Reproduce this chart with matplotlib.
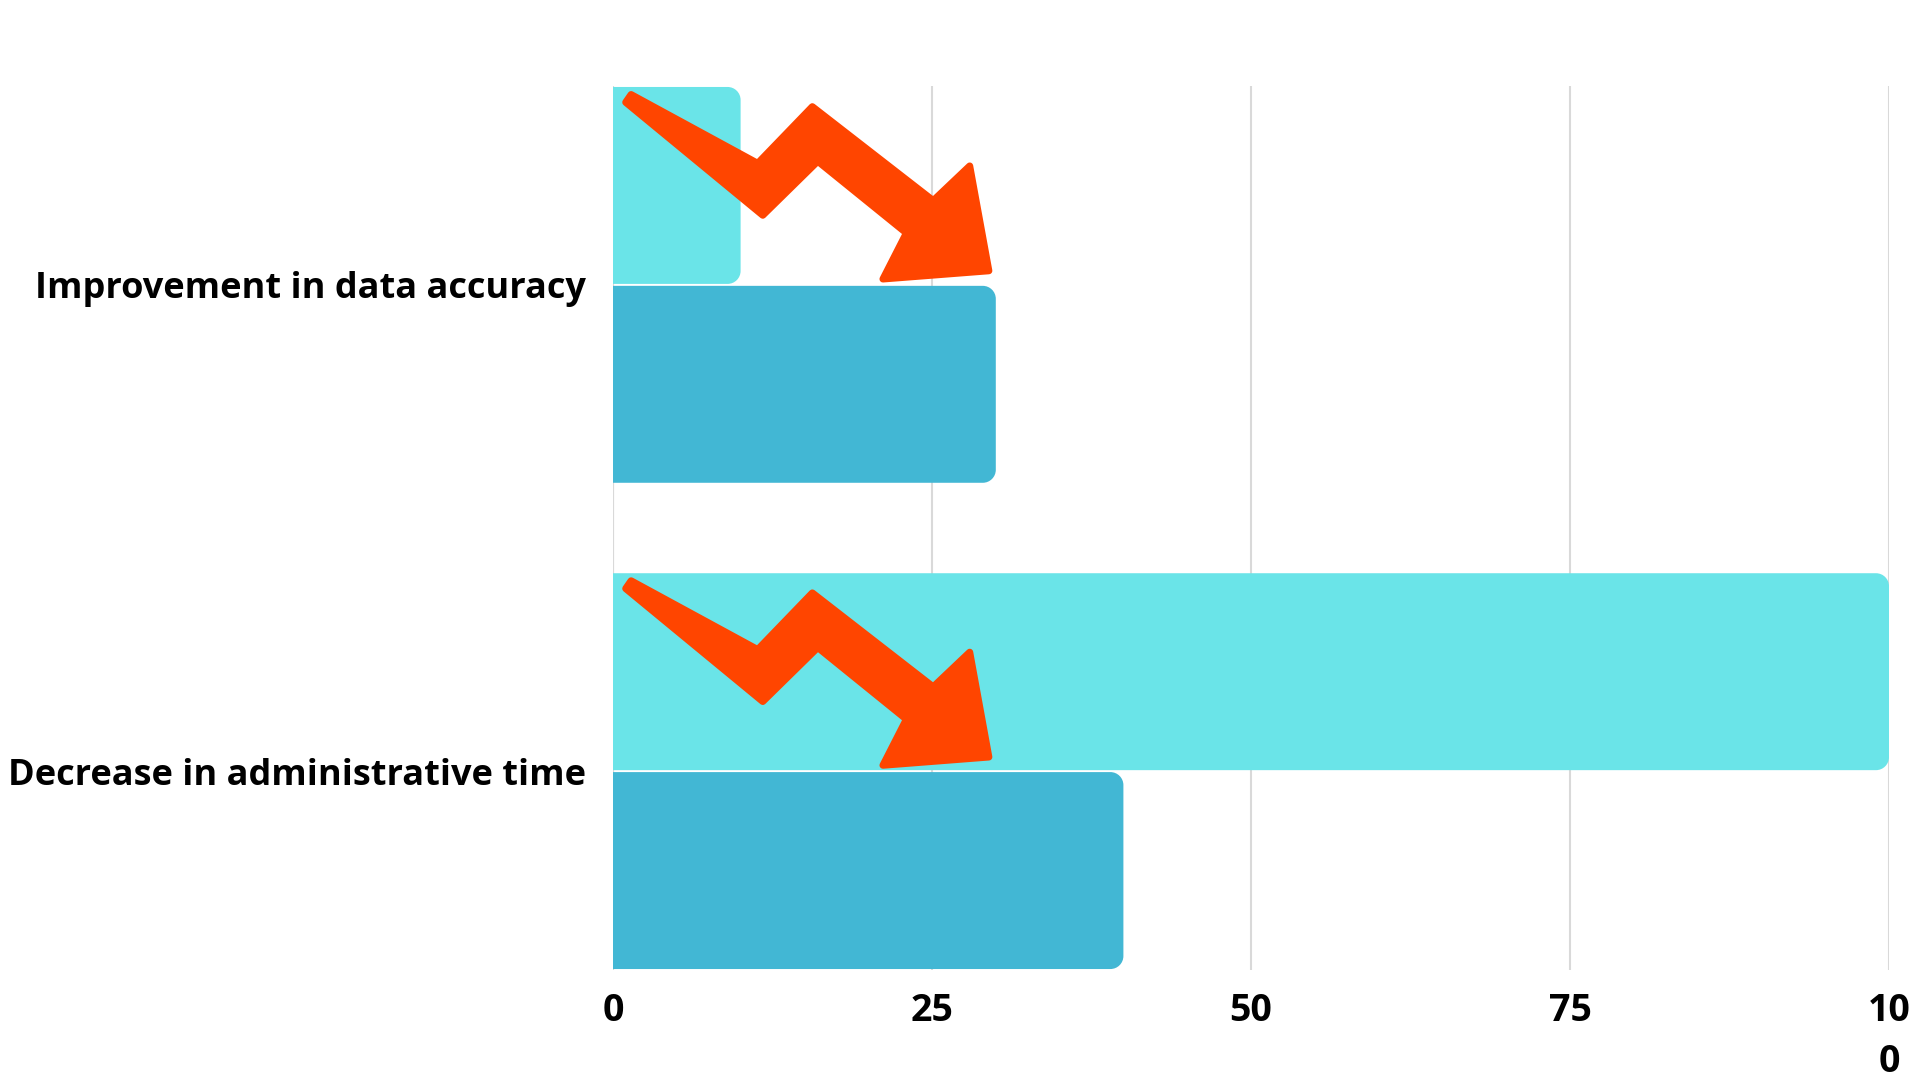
import matplotlib
matplotlib.use("Agg")
import matplotlib.pyplot as plt
from matplotlib.path import Path
from matplotlib.patches import PathPatch, Polygon
from matplotlib.transforms import IdentityTransform
import numpy as np

categories = ["Improvement in data accuracy", "Decrease in administrative time"]
series_before = [10, 100]   # light cyan (upper bar)
series_after = [30, 40]     # darker blue (lower bar)
x_ticks = [0, 25, 50, 75, 100]
x_tick_labels = ["0", "25", "50", "75", "10\n0"]

LIGHT = "#6AE4E8"
DARK = "#42B7D4"
ARROW = "#FF4500"
GRID = "#D9D9D9"
FONT = ["Open Sans", "DejaVu Sans"]

W, H = 1920, 1080
fig = plt.figure(figsize=(W / 100, H / 100), dpi=100)
ax = fig.add_axes([613 / W, 1 - 970 / H, (1889 - 613) / W, (970 - 86) / H])

bar_h = 0.405
gap = 0.004
half_group = bar_h + gap
ax.set_xlim(0, 100)
ax.set_ylim(len(categories) - 1 + half_group, -half_group)

# pixels per data unit
p0 = ax.transData.transform((0, 0))
p1 = ax.transData.transform((1, 1))
ppx = abs(p1[0] - p0[0])
ppy = abs(p1[1] - p0[1])


def rounded_bar(y_center, value, color, r_px=13):
    y0 = y_center - bar_h / 2
    y1 = y_center + bar_h / 2
    rx = min(r_px / ppx, value / 2)
    ry = r_px / ppy
    k = 0.5523
    verts = [
        (0, y0),
        (value - rx, y0),
        (value - rx + k * rx, y0), (value, y0 + ry - k * ry), (value, y0 + ry),
        (value, y1 - ry),
        (value, y1 - ry + k * ry), (value - rx + k * rx, y1), (value - rx, y1),
        (0, y1),
        (0, y0),
    ]
    codes = [Path.MOVETO, Path.LINETO,
             Path.CURVE4, Path.CURVE4, Path.CURVE4,
             Path.LINETO,
             Path.CURVE4, Path.CURVE4, Path.CURVE4,
             Path.LINETO, Path.CLOSEPOLY]
    ax.add_patch(PathPatch(Path(verts, codes), facecolor=color, edgecolor="none", zorder=3))


def inset_polygon(pts, d):
    pts = np.asarray(pts, dtype=float)
    n = len(pts)
    area = 0.5 * np.sum(pts[:, 0] * np.roll(pts[:, 1], -1) - np.roll(pts[:, 0], -1) * pts[:, 1])
    sign = 1.0 if area > 0 else -1.0
    lines = []
    for i in range(n):
        a, b = pts[i], pts[(i + 1) % n]
        t = (b - a) / np.linalg.norm(b - a)
        nrm = sign * np.array([-t[1], t[0]])  # inward normal
        lines.append((a + d * nrm, t))
    out = []
    for i in range(n):
        (pa, ta), (pb, tb) = lines[i - 1], lines[i]
        A = np.array([ta, -tb]).T
        s = np.linalg.solve(A, pb - pa)
        out.append(pa + s[0] * ta)
    return np.array(out)


# decorative arrow shape in pixel offsets (x right, y down) from the top-left of the light bar
arrow_offsets = [(17, 3), (144, 72), (199, 15), (320, 109), (359, 72), (380, 187),
                 (264, 196), (289, 147), (205, 79), (150, 133), (8, 16)]
ROUND = 3.5

for i, cat in enumerate(categories):
    y_light = i - (bar_h / 2 + gap / 2)
    y_dark = i + (bar_h / 2 + gap / 2)
    rounded_bar(y_light, series_before[i], LIGHT)
    rounded_bar(y_dark, series_after[i], DARK)
    anchor = ax.transData.transform((0, y_light - bar_h / 2))
    pts = [(anchor[0] + dx, anchor[1] - dy) for dx, dy in arrow_offsets]
    pts = inset_polygon(pts, ROUND)
    poly = Polygon(pts, closed=True, transform=IdentityTransform(), facecolor=ARROW,
                   edgecolor=ARROW, linewidth=2 * ROUND * 0.72, joinstyle="round", zorder=5)
    fig.add_artist(poly)

ax.set_yticks(range(len(categories)))
ax.set_yticklabels(categories, fontsize=26, fontweight="bold", family=FONT)
ax.set_xticks(x_ticks)
ax.set_xticklabels(x_tick_labels, fontsize=27, fontweight="bold", family=FONT,
                   linespacing=1.45, va="top")
ax.tick_params(axis="both", length=0)
ax.tick_params(axis="y", pad=19.5)
ax.tick_params(axis="x", pad=16)
for s in ax.spines.values():
    s.set_visible(False)
ax.xaxis.grid(True, color=GRID, linewidth=1.5, zorder=0)
ax.set_axisbelow(True)
ax.axvline(0, color=GRID, linewidth=1.5, zorder=1)

fig.savefig("out.png", dpi=100, facecolor="white")
